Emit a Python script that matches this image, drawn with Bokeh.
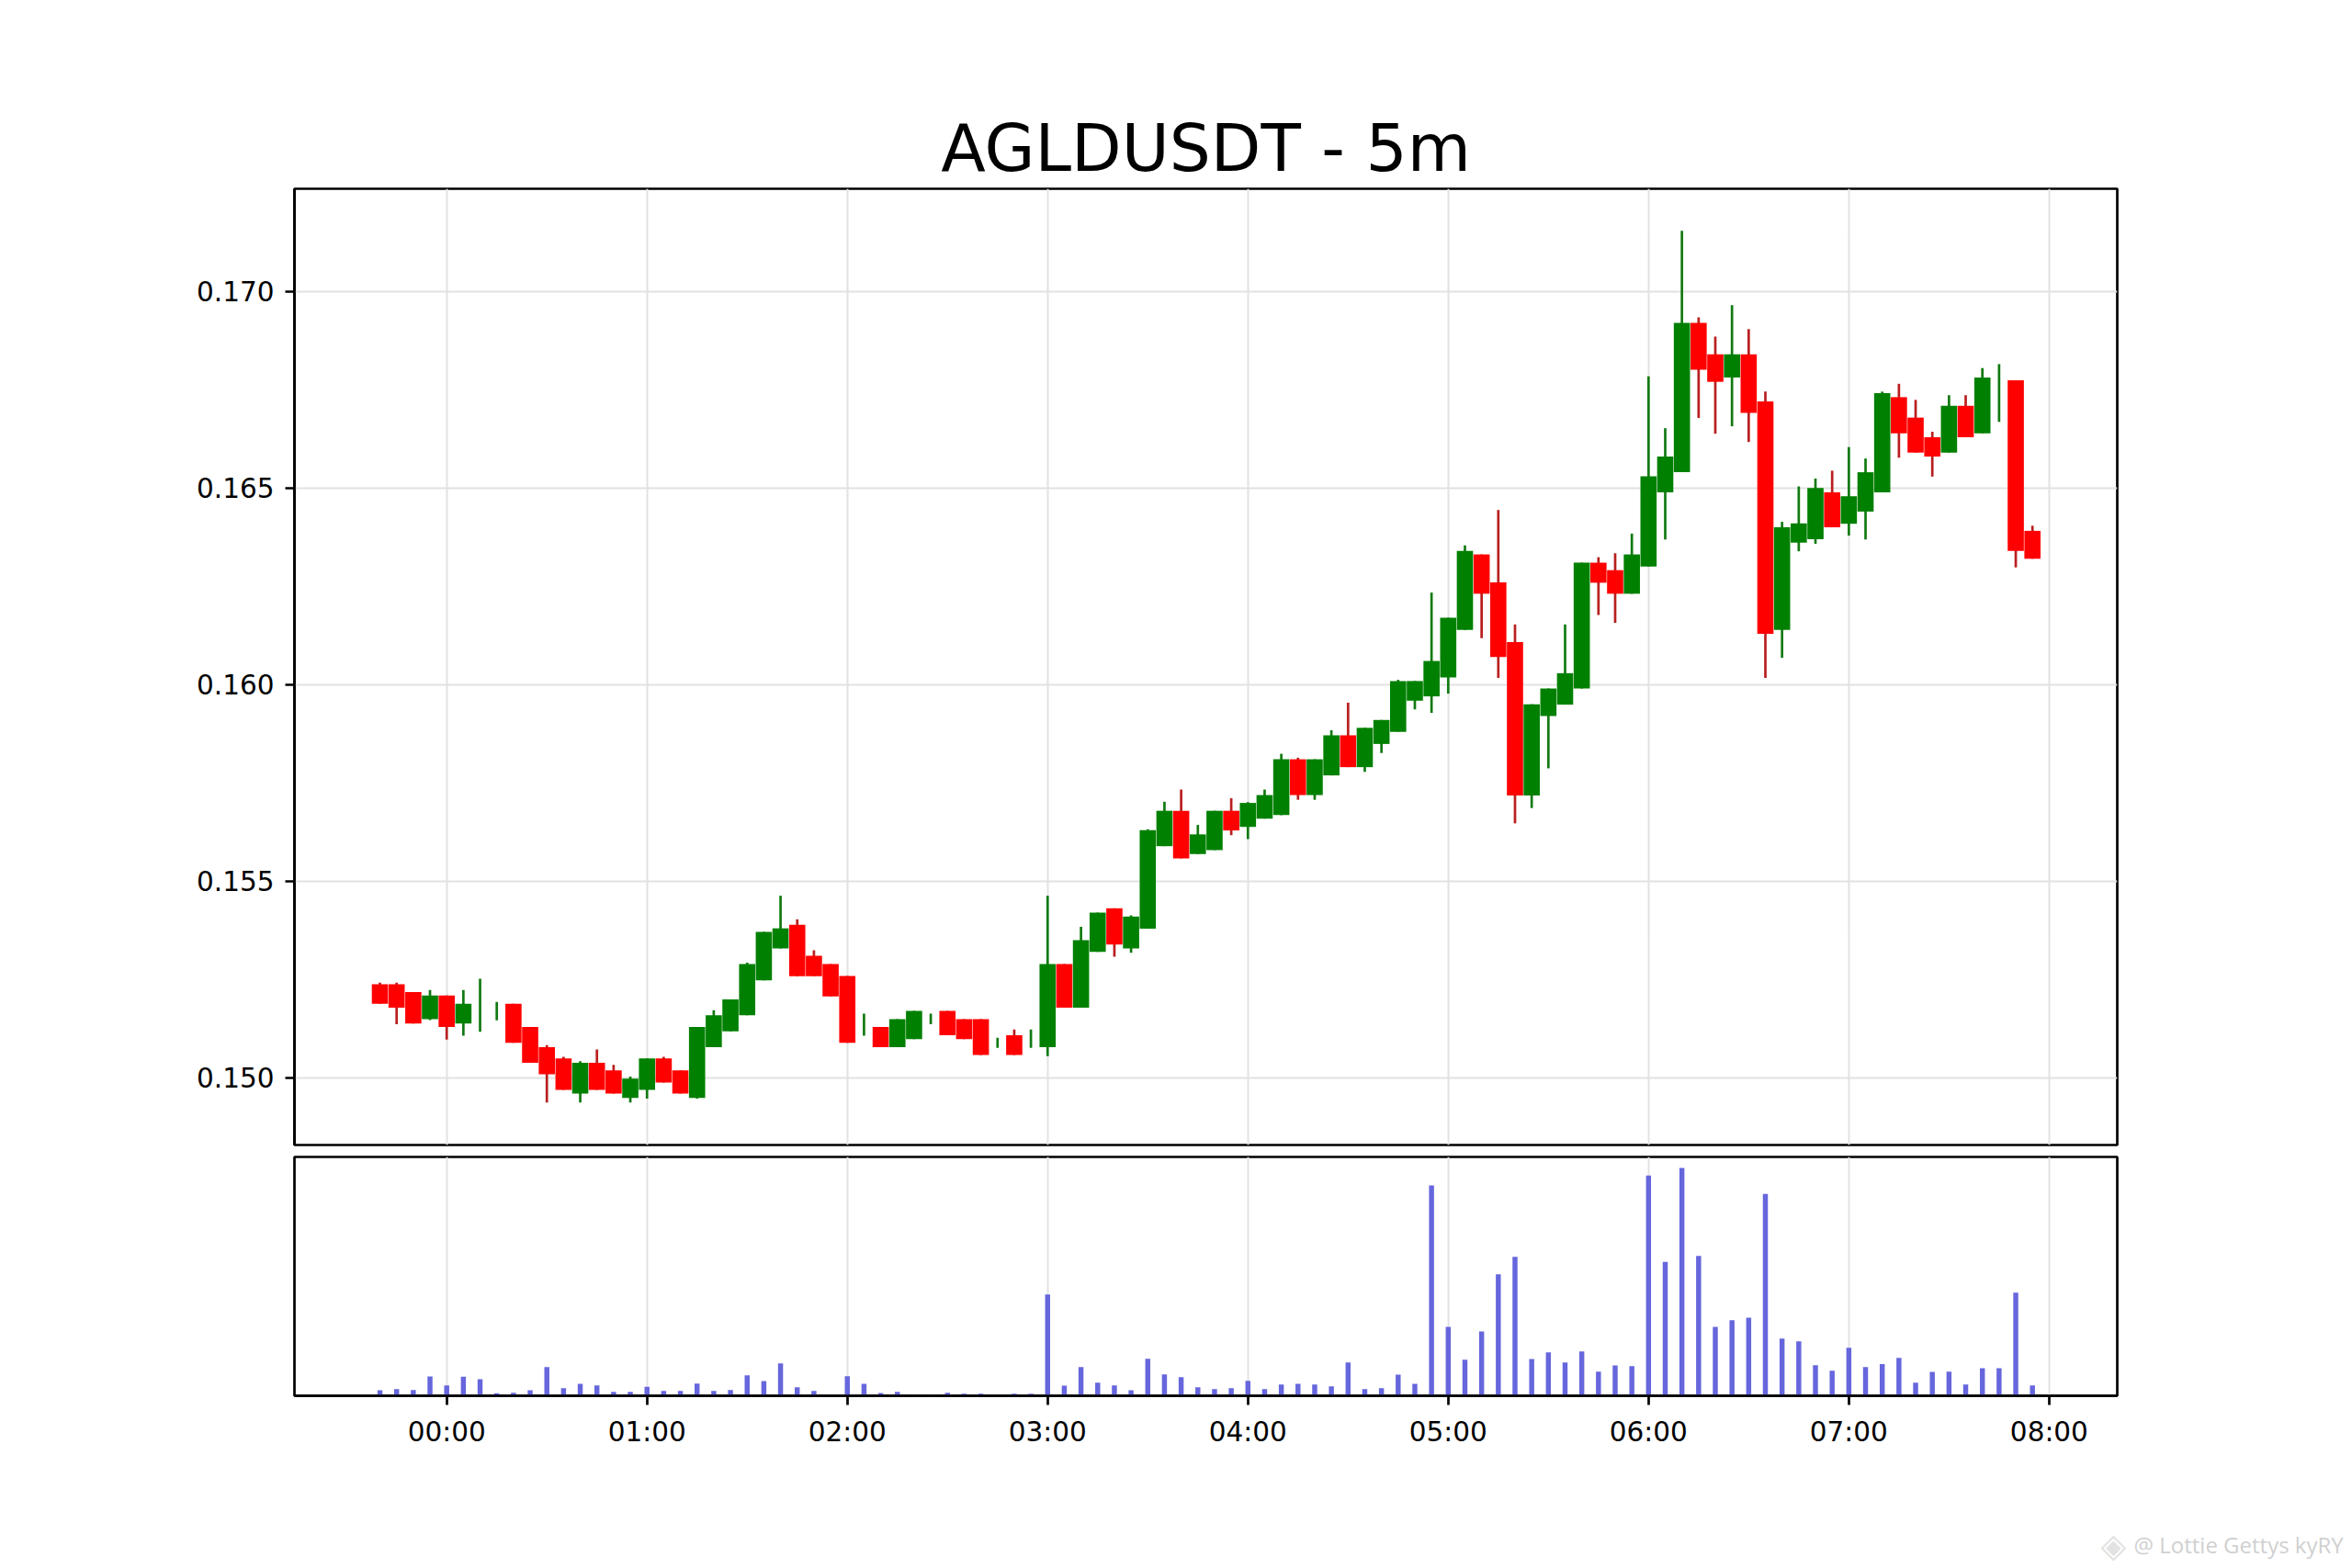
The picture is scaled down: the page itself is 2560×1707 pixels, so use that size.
from bokeh.plotting import figure
from bokeh.layouts import column
from bokeh.core.properties import value
from bokeh.models import ColumnDataSource, FixedTicker, Range1d, Title, NumeralTickFormatter
from bokeh.embed import file_html
from bokeh.resources import INLINE

title_text = "AGLDUSDT - 5m"
watermark_icon = "\u25c8"
watermark = "@ Lottie Gettys kyRY"
bar_minutes = [5 * i for i in range(-4, 96)]
x_ticks = [0, 60, 120, 180, 240, 300, 360, 420, 480]
x_labels = ["00:00", "01:00", "02:00", "03:00", "04:00", "05:00", "06:00", "07:00", "08:00"]
y_ticks = [0.150, 0.155, 0.160, 0.165, 0.170]

open_ = [0.15238,0.15238,0.15218,0.15149,0.15209,0.15138,0.15190,0.15170,0.15188,0.15129,
         0.15078,0.15049,0.14960,0.15038,0.15019,0.14949,0.14969,0.15049,0.15019,0.14949,
         0.15078,0.15118,0.15159,0.15248,0.15329,0.15389,0.15310,0.15289,0.15259,0.15135,
         0.15129,0.15078,0.15098,0.15150,0.15170,0.15149,0.15149,0.15090,0.15108,0.15100,
         0.15078,0.15289,0.15178,0.15320,0.15431,0.15329,0.15379,0.15589,0.15679,0.15569,
         0.15579,0.15679,0.15638,0.15659,0.15668,0.15810,0.15719,0.15769,0.15871,0.15790,
         0.15849,0.15880,0.15959,0.15970,0.16018,0.16139,0.16331,0.16260,0.16108,0.15718,
         0.15920,0.15949,0.15990,0.16310,0.16291,0.16231,0.16300,0.16489,0.16540,0.16920,
         0.16840,0.16781,0.16840,0.16720,0.16139,0.16361,0.16370,0.16489,0.16409,0.16440,
         0.16489,0.16731,0.16679,0.16629,0.16590,0.16709,0.16639,0.16740,0.16774,0.16391]
high = [0.15242,0.15242,0.15218,0.15223,0.15209,0.15223,0.15252,0.15193,0.15188,0.15129,
        0.15083,0.15053,0.15042,0.15072,0.15033,0.15003,0.15049,0.15053,0.15019,0.15129,
        0.15172,0.15199,0.15293,0.15371,0.15463,0.15403,0.15324,0.15289,0.15259,0.15163,
        0.15129,0.15149,0.15170,0.15163,0.15170,0.15149,0.15149,0.15102,0.15123,0.15123,
        0.15463,0.15289,0.15384,0.15420,0.15431,0.15413,0.15632,0.15702,0.15733,0.15643,
        0.15679,0.15711,0.15701,0.15733,0.15824,0.15814,0.15810,0.15884,0.15954,0.15890,
        0.15910,0.16012,0.16009,0.16234,0.16170,0.16354,0.16331,0.16444,0.16153,0.15950,
        0.15990,0.16153,0.16310,0.16324,0.16334,0.16384,0.16784,0.16652,0.17154,0.16934,
        0.16885,0.16965,0.16904,0.16745,0.16414,0.16504,0.16524,0.16544,0.16604,0.16575,
        0.16745,0.16765,0.16724,0.16643,0.16736,0.16736,0.16805,0.16815,0.16774,0.16404]
low = [0.15188,0.15136,0.15138,0.15147,0.15097,0.15107,0.15117,0.15146,0.15089,0.15038,
       0.14937,0.14969,0.14937,0.14969,0.14960,0.14937,0.14947,0.14988,0.14960,0.14947,
       0.15078,0.15118,0.15159,0.15248,0.15329,0.15258,0.15258,0.15207,0.15089,0.15107,
       0.15078,0.15078,0.15098,0.15136,0.15108,0.15098,0.15058,0.15076,0.15058,0.15076,
       0.15055,0.15178,0.15178,0.15320,0.15308,0.15318,0.15379,0.15589,0.15558,0.15569,
       0.15579,0.15617,0.15607,0.15659,0.15668,0.15707,0.15707,0.15769,0.15790,0.15778,
       0.15826,0.15880,0.15937,0.15928,0.15977,0.16139,0.16118,0.16017,0.15647,0.15686,
       0.15787,0.15949,0.15990,0.16177,0.16157,0.16231,0.16300,0.16369,0.16540,0.16678,
       0.16638,0.16657,0.16617,0.16017,0.16068,0.16339,0.16358,0.16400,0.16379,0.16369,
       0.16489,0.16577,0.16590,0.16529,0.16590,0.16629,0.16639,0.16668,0.16298,0.16320]
close = [0.15188,0.15178,0.15138,0.15209,0.15129,0.15188,0.15190,0.15170,0.15089,0.15038,
         0.15009,0.14969,0.15038,0.14969,0.14960,0.14998,0.15049,0.14988,0.14960,0.15129,
         0.15159,0.15199,0.15289,0.15371,0.15380,0.15258,0.15258,0.15207,0.15089,0.15135,
         0.15078,0.15149,0.15170,0.15150,0.15108,0.15098,0.15058,0.15090,0.15058,0.15100,
         0.15289,0.15178,0.15350,0.15420,0.15339,0.15410,0.15630,0.15679,0.15558,0.15619,
         0.15679,0.15629,0.15699,0.15719,0.15810,0.15719,0.15810,0.15871,0.15790,0.15890,
         0.15910,0.16009,0.16009,0.16060,0.16170,0.16340,0.16231,0.16070,0.15718,0.15950,
         0.15990,0.16029,0.16310,0.16259,0.16231,0.16331,0.16530,0.16580,0.16920,0.16801,
         0.16770,0.16840,0.16691,0.16129,0.16400,0.16410,0.16500,0.16400,0.16479,0.16540,
         0.16741,0.16639,0.16590,0.16580,0.16709,0.16629,0.16781,0.16740,0.16340,0.16320]
volume = [18,22,19,63,34,62,54,8,10,18,
          94,25,39,34,13,13,29,16,16,40,
          16,19,67,48,106,28,16,1,64,39,
          9,13,3,3,10,7,7,2,7,7,
          331,33,94,43,34,18,121,70,61,28,
          22,25,49,22,37,39,37,31,109,22,
          25,69,39,688,225,118,210,397,454,120,
          142,109,145,79,99,97,720,438,745,457,
          225,247,255,660,187,178,100,82,157,94,
          104,124,43,78,79,37,90,90,337,34]

UP_BODY, DOWN_BODY = "#008000", "#ff0000"
UP_WICK, DOWN_WICK = "#117a11", "#b91f1f"
FONT = "DejaVu Sans"
GRID = "#e2e2e2"
SPINE = 2.7

up = [c >= o for o, c in zip(open_, close)]
src = ColumnDataSource(dict(
    x=bar_minutes, low=low, high=high,
    top=[max(o, c) for o, c in zip(open_, close)],
    bottom=[min(o, c) for o, c in zip(open_, close)],
    body=[UP_BODY if u else DOWN_BODY for u in up],
    wick=[UP_WICK if u else DOWN_WICK for u in up],
    volume=volume,
))
x_range = Range1d(-45.6, 500.4)


def style(p):
    p.outline_line_color = "black"
    p.outline_line_width = SPINE
    p.background_fill_color = "white"
    p.border_fill_color = "white"
    p.min_border_left = 320
    p.min_border_right = 252


price = figure(width=2556, height=1252, x_range=x_range, y_range=Range1d(0.14829, 0.17261),
               output_backend="svg", toolbar_location=None)
style(price)
price.min_border_top = 205
price.min_border_bottom = 6
price.title = Title(text=title_text, align="center", text_font=FONT, text_font_size="71px",
                    text_font_style="normal", text_color="black", standoff=6)
price.xaxis.visible = False
price.xgrid.ticker = FixedTicker(ticks=x_ticks)
price.xgrid.grid_line_color = GRID
price.xgrid.grid_line_width = 2
price.ygrid.ticker = FixedTicker(ticks=y_ticks)
price.ygrid.grid_line_color = GRID
price.ygrid.grid_line_width = 2
ya = price.yaxis[0]
ya.ticker = FixedTicker(ticks=y_ticks)
ya.formatter = NumeralTickFormatter(format="0.000")
ya.major_label_text_font = FONT
ya.major_label_text_font_size = "29.5px"
ya.major_label_text_color = "black"
ya.major_label_standoff = 12
ya.major_tick_in = 0
ya.major_tick_out = 10
ya.major_tick_line_width = SPINE
ya.major_tick_line_color = "black"
ya.minor_tick_line_color = None
ya.axis_line_width = SPINE
ya.axis_line_color = "black"
price.segment(x0="x", y0="low", x1="x", y1="high", source=src, line_color="wick", line_width=2.7)
price.vbar(x="x", top="top", bottom="bottom", width=4.85, source=src,
           fill_color="body", line_color=None)

vol = figure(width=2556, height=412, x_range=x_range, y_range=Range1d(0, 781),
             output_backend="svg", toolbar_location=None)
style(vol)
vol.min_border_top = 7
vol.min_border_bottom = 145
vol.yaxis.visible = False
vol.ygrid.visible = False
vol.xgrid.ticker = FixedTicker(ticks=x_ticks)
vol.xgrid.grid_line_color = GRID
vol.xgrid.grid_line_width = 2
xa = vol.xaxis[0]
xa.ticker = FixedTicker(ticks=x_ticks)
xa.major_label_overrides = dict(zip(x_ticks, x_labels))
xa.major_label_text_font = FONT
xa.major_label_text_font_size = "29.5px"
xa.major_label_text_color = "black"
xa.major_label_standoff = 12
xa.major_tick_in = 0
xa.major_tick_out = 10
xa.major_tick_line_width = SPINE
xa.major_tick_line_color = "black"
xa.minor_tick_line_color = None
xa.axis_line_width = SPINE
xa.axis_line_color = "black"
vol.vbar(x="x", top="volume", bottom=0, width=1.5, source=src,
         fill_color="#6666dd", line_color=None)

mark = figure(width=2556, height=40, x_range=Range1d(0, 2556), y_range=Range1d(0, 40),
              x_axis_type=None, y_axis_type=None, output_backend="svg", toolbar_location=None)
mark.frame_align = False
mark.min_border_left = 0
mark.min_border_right = 0
mark.min_border_top = 0
mark.min_border_bottom = 0
mark.outline_line_color = None
mark.grid.visible = False
mark.background_fill_color = "white"
mark.border_fill_color = "white"
mark.text(x=[2286], y=[22], text=[watermark_icon], text_font=value("DejaVu Sans"),
          text_font_size="36px", text_color="#e2e2e2", text_baseline="alphabetic")
mark.text(x=[2322], y=[23], text=[watermark], text_font=value("Open Sans"),
          text_font_size="24px", text_color="#d0d0d0", text_baseline="alphabetic")

layout = column(price, vol, mark, spacing=0)
open("out.html", "w").write(file_html(layout, INLINE))
